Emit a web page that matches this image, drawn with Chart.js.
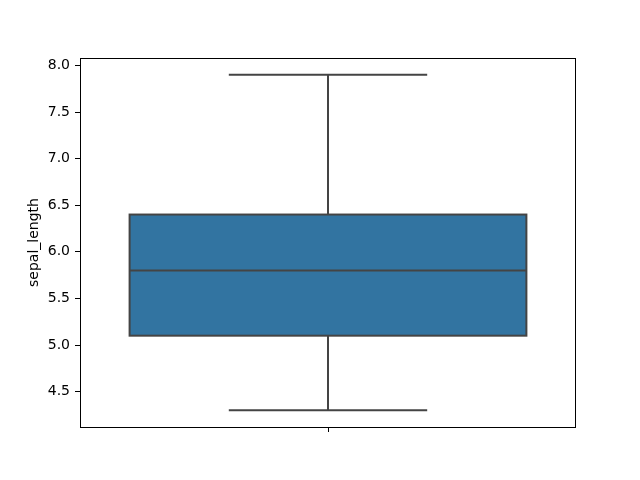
<!DOCTYPE html>
<html>
<head>
<meta charset="utf-8">
<script src="https://cdn.jsdelivr.net/npm/chart.js@4/dist/chart.umd.min.js"></script>
<style>
  html, body { margin: 0; padding: 0; background: #fff; }
  #wrap { width: 640px; height: 480px; }
</style>
</head>
<body>
<div id="wrap"><canvas id="boxChart" width="640" height="480"></canvas></div>
<script>
// iris sepal_length summary
const categorias = [""];
const minimos = [4.3];
const cuartil1 = [5.1];
const medianas = [5.8];
const cuartil3 = [6.4];
const maximos = [7.9];
const yTicks = [4.5, 5.0, 5.5, 6.0, 6.5, 7.0, 7.5, 8.0];

const boxColor = "#3274a1";
const lineColor = "#444444";

// contorno, bigotes, mediana y marco dibujados con las escalas del gráfico
const boxPlugin = {
    id: "boxParts",
    afterDatasetsDraw(chart) {
        const ctx = chart.ctx;
        const y = chart.scales.y;
        const meta = chart.getDatasetMeta(0);
        ctx.save();
        ctx.strokeStyle = lineColor;
        ctx.lineWidth = 2;
        meta.data.forEach((bar, i) => {
            const cx = bar.x;
            const half = bar.width / 2;
            const cap = half / 2;
            const yQ1 = y.getPixelForValue(cuartil1[i]);
            const yQ3 = y.getPixelForValue(cuartil3[i]);
            ctx.strokeRect(cx - half, yQ3, half * 2, yQ1 - yQ3);
            ctx.beginPath();
            // mediana
            ctx.moveTo(cx - half, y.getPixelForValue(medianas[i]));
            ctx.lineTo(cx + half, y.getPixelForValue(medianas[i]));
            // bigote superior
            ctx.moveTo(cx, yQ3);
            ctx.lineTo(cx, y.getPixelForValue(maximos[i]));
            ctx.moveTo(cx - cap, y.getPixelForValue(maximos[i]));
            ctx.lineTo(cx + cap, y.getPixelForValue(maximos[i]));
            // bigote inferior
            ctx.moveTo(cx, yQ1);
            ctx.lineTo(cx, y.getPixelForValue(minimos[i]));
            ctx.moveTo(cx - cap, y.getPixelForValue(minimos[i]));
            ctx.lineTo(cx + cap, y.getPixelForValue(minimos[i]));
            ctx.stroke();
        });
        // marco
        const a = chart.chartArea;
        ctx.strokeStyle = "#000";
        ctx.lineWidth = 1;
        ctx.strokeRect(a.left + 0.5, a.top + 0.5, a.right - a.left - 1, a.bottom - a.top);
        ctx.restore();
    }
};

const lo = Math.min(...minimos), hi = Math.max(...maximos);
const margin = (hi - lo) * 0.05;

new Chart(document.getElementById("boxChart").getContext("2d"), {
    type: "bar",
    data: {
        labels: categorias,
        datasets: [{
            data: categorias.map((c, i) => [cuartil1[i], cuartil3[i]]),
            backgroundColor: boxColor,
            borderWidth: 0,
            barPercentage: 0.8,
            categoryPercentage: 1.0
        }]
    },
    options: {
        responsive: false,
        animation: false,
        layout: { padding: { left: 23, right: 64, top: 58, bottom: 0 } },
        plugins: { legend: { display: false }, tooltip: { enabled: false } },
        scales: {
            x: {
                grid: { display: true, drawOnChartArea: false, offset: false, tickLength: 5, color: "#000" },
                border: { display: false },
                ticks: { display: true, color: "#000", font: { family: "DejaVu Sans", size: 14 } },
                afterFit(scale) { scale.height = 53; }
            },
            y: {
                min: lo - margin,
                max: hi + margin,
                afterBuildTicks(scale) { scale.ticks = yTicks.map(v => ({ value: v })); },
                grid: { display: true, drawOnChartArea: false, tickLength: 5, color: "#000" },
                border: { display: false },
                ticks: {
                    color: "#000",
                    padding: 5,
                    font: { family: "DejaVu Sans", size: 14 },
                    callback: v => v.toFixed(1)
                },
                title: {
                    display: true,
                    text: "sepal_length",
                    color: "#000",
                    padding: { top: 3, bottom: 4 },
                    font: { family: "DejaVu Sans", size: 14 }
                },
                afterFit(scale) { scale.width = 57; }
            }
        }
    },
    plugins: [boxPlugin]
});
</script>
</body>
</html>
